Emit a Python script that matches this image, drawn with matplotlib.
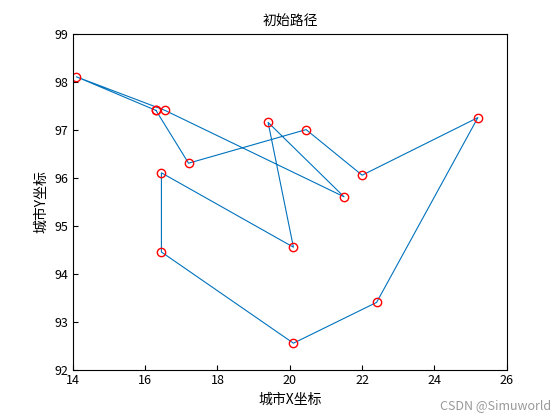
import matplotlib
matplotlib.use('Agg')
import matplotlib.pyplot as plt

plt.rcParams['font.family'] = ['Noto Sans CJK SC', 'DejaVu Sans']

# route order (closed loop)
xs = [16.3, 17.2, 20.45, 22.0, 25.2, 22.4, 20.1, 16.45, 16.45, 20.1, 19.4, 21.5, 16.55, 14.1, 16.3]
ys = [97.4, 96.3, 97.0, 96.05, 97.25, 93.4, 92.55, 94.45, 96.1, 94.55, 97.15, 95.6, 97.4, 98.1, 97.4]

fig = plt.figure(figsize=(5.6, 4.2), dpi=100)
ax = fig.add_axes([0.13, 0.12, 0.775, 0.8])
ax.plot(xs, ys, color=(0, 0.447, 0.741), linewidth=0.8)
ax.plot(xs, ys, 'o', mfc='none', mec='red', markersize=6, linewidth=0)
ax.set_xlim(14, 26)
ax.set_ylim(92, 99)
ax.set_xticks(range(14, 27, 2))
ax.set_yticks(range(92, 100))
ax.tick_params(direction='in', labelsize=9, top=False, right=False)
ax.set_title('初始路径', fontsize=10)
ax.set_xlabel('城市X坐标', fontsize=10)
ax.set_ylabel('城市Y坐标', fontsize=10)
fig.text(0.985, 0.02, 'CSDN @Simuworld', ha='right', va='bottom', fontsize=9, color='#999999')
fig.savefig('out.png')
